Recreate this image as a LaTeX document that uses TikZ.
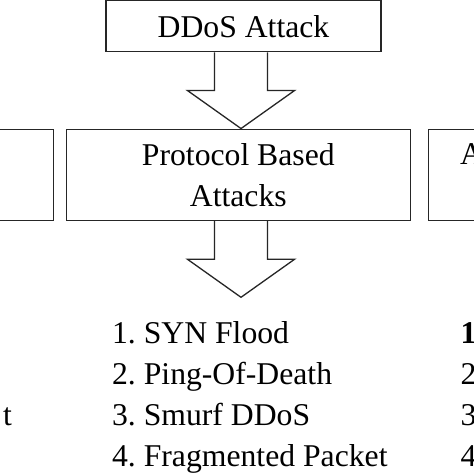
\documentclass[tikz,border=0pt]{standalone}
\usepackage{fontspec}
\setmainfont{Liberation Serif}
\usetikzlibrary{calc}
\frenchspacing

% hollow block arrow: shaft leaves #1, tip lands on #2
\newcommand{\hollowarrow}[2]{%
  \draw[edge] let \p1=(#1), \p2=(#2) in
    (\x2-26.5bp,\y1) -- (\x2-26.5bp,\y2+38bp) -- (\x2-53.5bp,\y2+38bp)
    -- (\x2,\y2) -- (\x2+53.5bp,\y2+38bp) -- (\x2+26.5bp,\y2+38bp)
    -- (\x2+26.5bp,\y1);}

\begin{document}
\begin{tikzpicture}[x=1bp, y=-1bp, line width=1.3bp, draw=black!85,
  font=\fontsize{31.8}{41.2}\selectfont,
  box/.style={draw, inner sep=0pt, align=center},
  edge/.style={line join=miter},
  item/.style={anchor=base west, inner sep=0pt, align=left}]
  \path[use as bounding box, clip] (0,0) rectangle (474,474);
  \fill[white] (0,0) rectangle (474,474);
  % root
  \node[box, minimum width=275bp, minimum height=51bp] (ddos) at (243.5,26.2) {DDoS Attack};
  % second level, outer boxes run off the picture
  \node[box, minimum width=344bp, minimum height=91bp] (protocol) at (238.3,174.7) {Protocol Based\\Attacks};
  \node[box, minimum width=344bp, minimum height=91bp] (volume) at (-118.7,174.7) {};
  \node[box, minimum width=344bp, minimum height=91bp] (application) at (600.3,174.7) {};
  \node[item] (applabel) at (459.5,165) {A};
  % arrows down the middle
  \coordinate (axis) at (241,0);
  \coordinate (tip) at (241,297.3);
  \hollowarrow{ddos.south}{protocol.north -| axis}
  \hollowarrow{protocol.south}{tip}
  % lists (base = last line)
  \node[item] (protolist) at (111.5,466.3) {1. SYN Flood\\2. Ping-Of-Death\\3. Smurf DDoS\\4. Fragmented Packet};
  \node[item] (applist) at (460,466.3) {\textbf{1}\\2\\3\\4};
  \node[item] (volend) at (2.5,425.1) {t};
\end{tikzpicture}
\end{document}
